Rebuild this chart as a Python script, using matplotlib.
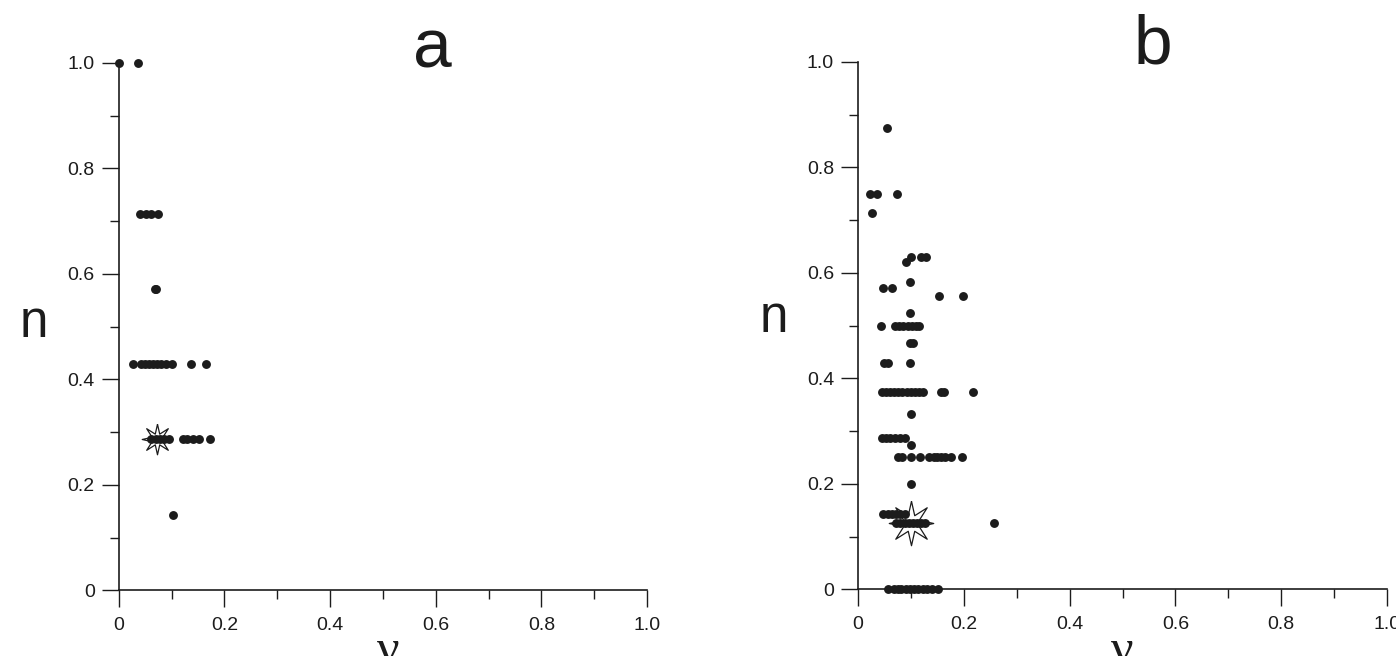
import numpy as np
import matplotlib
matplotlib.use("Agg")
import matplotlib.pyplot as plt
from matplotlib.path import Path
from matplotlib.ticker import MultipleLocator, FuncFormatter

plt.rcParams['font.family'] = ['Liberation Sans', 'DejaVu Sans']

ink = '#1c1c1c'

# panel a: (nu, n) points, row by row
a_nu = [0.0, 0.037,
        0.040, 0.052, 0.062, 0.075,
        0.068, 0.071,
        0.027, 0.042, 0.050, 0.057, 0.064, 0.072, 0.080, 0.090, 0.100, 0.136, 0.166,
        0.062, 0.070, 0.078, 0.086, 0.095, 0.122, 0.130, 0.140, 0.152, 0.173,
        0.102]
a_n = [1.0, 1.0,
       0.714, 0.714, 0.714, 0.714,
       0.571, 0.571,
       0.429, 0.429, 0.429, 0.429, 0.429, 0.429, 0.429, 0.429, 0.429, 0.429, 0.429,
       0.286, 0.286, 0.286, 0.286, 0.286, 0.286, 0.286, 0.286, 0.286, 0.286,
       0.143]
a_star = (0.072, 0.286)

# panel b
b_nu = [0.055,
        0.022, 0.036, 0.073,
        0.026,
        0.091, 0.100, 0.120, 0.128,
        0.099,
        0.047, 0.064,
        0.154, 0.199,
        0.098,
        0.043, 0.070, 0.078, 0.086, 0.094, 0.102, 0.110, 0.116,
        0.098, 0.104,
        0.050, 0.056, 0.099,
        0.045, 0.053, 0.060, 0.068, 0.076, 0.084, 0.092, 0.100, 0.108, 0.116, 0.123, 0.157, 0.163, 0.217,
        0.100,
        0.045, 0.053, 0.061, 0.070, 0.079, 0.088,
        0.100,
        0.075, 0.084, 0.100, 0.117, 0.135, 0.143, 0.150, 0.157, 0.165, 0.176, 0.197,
        0.100,
        0.048, 0.056, 0.064, 0.072, 0.080, 0.089,
        0.072, 0.080, 0.088, 0.096, 0.104, 0.112, 0.120, 0.127, 0.257,
        0.057, 0.068, 0.075, 0.082, 0.090, 0.098, 0.106, 0.114, 0.122, 0.130, 0.140, 0.152]
b_n = [0.875,
       0.75, 0.75, 0.75,
       0.714,
       0.62, 0.63, 0.63, 0.63,
       0.583,
       0.571, 0.571,
       0.556, 0.556,
       0.524,
       0.5, 0.5, 0.5, 0.5, 0.5, 0.5, 0.5, 0.5,
       0.467, 0.467,
       0.429, 0.429, 0.429,
       0.375, 0.375, 0.375, 0.375, 0.375, 0.375, 0.375, 0.375, 0.375, 0.375, 0.375, 0.375, 0.375, 0.375,
       0.333,
       0.286, 0.286, 0.286, 0.286, 0.286, 0.286,
       0.273,
       0.25, 0.25, 0.25, 0.25, 0.25, 0.25, 0.25, 0.25, 0.25, 0.25, 0.25,
       0.2,
       0.143, 0.143, 0.143, 0.143, 0.143, 0.143,
       0.125, 0.125, 0.125, 0.125, 0.125, 0.125, 0.125, 0.125, 0.125,
       0.0, 0.0, 0.0, 0.0, 0.0, 0.0, 0.0, 0.0, 0.0, 0.0, 0.0, 0.0]
b_star = (0.100, 0.125)

# thin eight-pointed star marker
ang = np.pi / 2 + np.arange(16) * np.pi / 8
rad = np.where(np.arange(16) % 2 == 0, 1.0, 0.38)
star_path = Path(np.column_stack([rad * np.cos(ang), rad * np.sin(ang)]), closed=False)
star_path = Path(np.vstack([star_path.vertices, star_path.vertices[:1]]))

W, H = 1396, 656
fig = plt.figure(figsize=(W / 100, H / 100), dpi=100)


def fmt(v, pos):
    return '0' if abs(v) < 1e-9 else f'{v:.1f}'


def panel(rect, nu, n, star, star_size, letter, letter_xy, ylab_xy, xlab_xy):
    ax = fig.add_axes(rect)
    ax.set_xlim(0, 1)
    ax.set_ylim(0, 1)
    for s in ['top', 'right']:
        ax.spines[s].set_visible(False)
    for s in ['left', 'bottom']:
        ax.spines[s].set_linewidth(1.2)
        ax.spines[s].set_color(ink)
    ax.xaxis.set_major_locator(MultipleLocator(0.2))
    ax.xaxis.set_minor_locator(MultipleLocator(0.1))
    ax.yaxis.set_major_locator(MultipleLocator(0.2))
    ax.yaxis.set_minor_locator(MultipleLocator(0.1))
    ax.xaxis.set_major_formatter(FuncFormatter(fmt))
    ax.yaxis.set_major_formatter(FuncFormatter(fmt))
    ax.tick_params(which='major', length=12.2, width=1.0, color=ink,
                   labelsize=14, labelcolor=ink, pad=5)
    ax.tick_params(axis='x', which='major', pad=7)
    ax.tick_params(which='minor', length=6.5, width=1.0, color=ink)
    ax.plot(star[0], star[1], marker=star_path, ms=star_size, mfc='white',
            mec=ink, mew=0.9, ls='none', clip_on=False, zorder=3)
    ax.plot(nu, n, 'o', ms=6.4, color=ink, mew=0, clip_on=False, zorder=4)
    fig.text(letter_xy[0] / W, 1 - letter_xy[1] / H, letter, fontsize=50,
             ha='center', va='baseline', color=ink)
    fig.text(ylab_xy[0] / W, 1 - ylab_xy[1] / H, 'n', fontsize=37,
             ha='center', va='baseline', color=ink)
    fig.text(xlab_xy[0] / W, 1 - xlab_xy[1] / H, 'ν', fontsize=36,
             ha='center', va='top', color=ink,
             family=['Liberation Serif', 'DejaVu Serif'])
    return ax


panel([118.7 / W, 1 - 590.3 / H, 528.3 / W, 527.3 / H], a_nu, a_n, a_star, 22,
      'a', (432, 67), (34, 337), (388, 628))
panel([858 / W, 1 - 589.3 / H, 529 / W, 527.3 / H], b_nu, b_n, b_star, 32,
      'b', (1153, 63), (774, 332), (1122, 628))

fig.savefig('out.png', dpi=100)
